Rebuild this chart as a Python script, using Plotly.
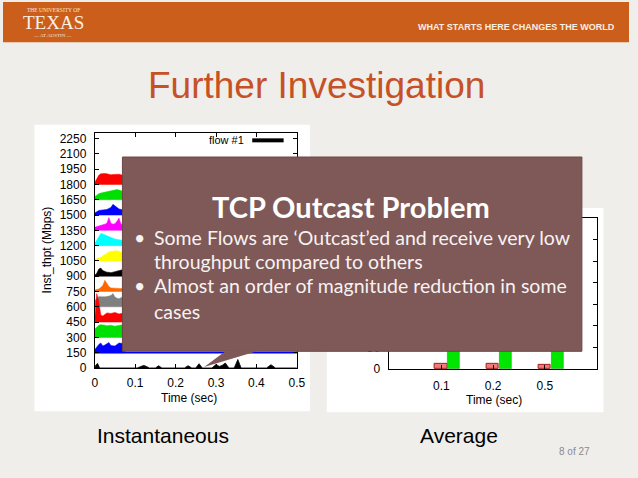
import plotly.graph_objects as go

W, H = 638, 478

# --- instantaneous throughput (left chart), stacked with 150 Mbps offsets ---
TIME = [0, 0.005, 0.01, 0.015, 0.02, 0.025, 0.03, 0.035, 0.04, 0.045,
        0.05, 0.055, 0.06, 0.065, 0.07, 0.075]

OFFSETS = [1800, 1650, 1500, 1350, 1200, 1050, 900, 750, 600, 450, 300, 150]
COLORS = ['#ff0000', '#00e000', '#0000ff', '#ff00ff', '#00ffff', '#ffff00',
          '#000000', '#ff6600', '#808080', '#ff0000', '#00e000', '#0000ff']

flow_1800 = [20, 60, 90, 105, 110, 108, 105, 98, 95, 98, 100, 102, 100, 95, 85, 80]
flow_1650 = [30, 45, 60, 65, 70, 72, 75, 82, 90, 95, 100, 100, 95, 88, 80, 75]
flow_1500 = [20, 35, 45, 48, 50, 52, 55, 65, 75, 105, 90, 70, 60, 55, 50, 50]
flow_1350 = [30, 38, 45, 50, 55, 60, 70, 125, 70, 60, 65, 90, 120, 60, 55, 55]
flow_1200 = [20, 50, 90, 120, 115, 105, 95, 88, 80, 72, 65, 60, 55, 52, 50, 50]
flow_1050 = [15, 20, 25, 35, 50, 65, 80, 88, 95, 98, 100, 100, 95, 85, 75, 70]
flow_900 = [10, 30, 70, 80, 55, 45, 40, 38, 35, 40, 45, 52, 60, 65, 70, 70]
flow_750 = [15, 20, 25, 40, 60, 110, 80, 50, 35, 32, 30, 30, 30, 30, 30, 30]
flow_600 = [60, 85, 100, 98, 95, 98, 100, 105, 110, 130, 95, 85, 80, 90, 100, 100]
flow_450 = [30, 280, 200, 70, 60, 75, 90, 88, 85, 90, 95, 88, 80, 85, 90, 90]
flow_300 = [80, 100, 120, 125, 125, 120, 115, 118, 120, 115, 110, 115, 120, 122, 125, 125]
flow_150 = [30, 60, 80, 95, 65, 75, 85, 100, 70, 68, 65, 80, 95, 92, 90, 90]

FLOWS = [flow_1800, flow_1650, flow_1500, flow_1350, flow_1200, flow_1050,
         flow_900, flow_750, flow_600, flow_450, flow_300, flow_150]

# flow #1 (the outcast one), full time range
flow1_t = [0, 0.003, 0.007, 0.012, 0.105, 0.115, 0.121, 0.128, 0.135, 0.15,
           0.158, 0.166, 0.222, 0.231, 0.24, 0.25, 0.258, 0.266, 0.29, 0.3,
           0.308, 0.315, 0.323, 0.332, 0.345, 0.354, 0.362, 0.425, 0.436,
           0.447, 0.5]
flow1_v = [0, 30, 45, 0, 0, 18, 25, 15, 0, 0,
           22, 0, 0, 22, 0, 0, 42, 0, 0, 35,
           15, 25, 48, 0, 0, 83, 0, 0, 32,
           0, 0]

T_RANGE = [0, 0.5]

# --- average throughput (right chart) ---
avg_cats = ['0.1', '0.2', '0.5']
avg_outcast = [11, 11, 10]
avg_others = [85, 82, 88]   # hidden behind the callout, estimated
avg_ticks = [0, 50, 100, 150, 200, 250, 300, 350]
avg_ticktext = ['0', '50', '', '', '', '', '', '']  # the rest sit under the callout


def px(x):
    return x / W


def py(y):
    return 1 - y / H


fig = go.Figure()

for off, color, vals in zip(OFFSETS, COLORS, FLOWS):
    xs = TIME + TIME[::-1]
    ys = [off + v for v in vals] + [off] * len(TIME)
    fig.add_trace(go.Scatter(x=xs, y=ys, fill='toself', fillcolor=color,
                             mode='lines', line=dict(color=color, width=0.5),
                             showlegend=False, hoverinfo='skip',
                             xaxis='x', yaxis='y'))

# baseline of the 150 offset flow runs across the plot
fig.add_trace(go.Scatter(x=T_RANGE, y=[OFFSETS[-1]] * 2, mode='lines',
                         line=dict(color='#0000ff', width=1.5),
                         showlegend=False, hoverinfo='skip',
                         xaxis='x', yaxis='y'))

fig.add_trace(go.Scatter(x=flow1_t, y=flow1_v, fill='tozeroy', fillcolor='black',
                         mode='lines', line=dict(color='black', width=0.8),
                         showlegend=False, hoverinfo='skip',
                         xaxis='x', yaxis='y'))

fig.add_trace(go.Bar(x=avg_cats, y=avg_outcast, width=0.24, offset=-0.125,
                     marker=dict(color='#f07a78', line=dict(color='#a02020', width=1)),
                     showlegend=False, xaxis='x2', yaxis='y2'))
fig.add_trace(go.Bar(x=avg_cats, y=avg_others, width=0.235, offset=0.125,
                     marker=dict(color='#00e600', line=dict(color='#00a000', width=0.5)),
                     showlegend=False, xaxis='x2', yaxis='y2'))

axis_font = dict(family='Liberation Sans, Arial', size=12, color='black')
axis_common = dict(showline=True, linecolor='black', linewidth=1, mirror='ticks',
                   ticks='inside', ticklen=4, tickcolor='black', showgrid=False,
                   zeroline=False, tickfont=axis_font)

fig.update_layout(
    width=W, height=H,
    margin=dict(l=0, r=0, t=0, b=0),
    paper_bgcolor='#f0eeeb',
    plot_bgcolor='rgba(0,0,0,0)',
    bargap=0,
    xaxis=dict(domain=[px(93.5), px(299.5)], range=T_RANGE, dtick=0.1,
               ticklabelstandoff=4, **axis_common),
    yaxis=dict(domain=[py(373), py(134)], range=[0, 2300], dtick=150,
               ticklabelstandoff=5, **axis_common),
    xaxis2=dict(domain=[px(393), px(605)], range=[-1.02, 3.0], type='category',
                anchor='y2', ticklabelstandoff=6, **axis_common),
    yaxis2=dict(domain=[py(374), py(220)], range=[0, 350], tickvals=avg_ticks,
                ticktext=avg_ticktext, anchor='x2', ticklabelstandoff=5,
                **axis_common),
)

shapes = [
    # banner
    dict(type='rect', xref='paper', yref='paper', x0=0, x1=1, y0=py(41), y1=1,
         fillcolor='#cb5e1b', line=dict(width=0), layer='below'),
    # white chart panels
    dict(type='rect', xref='paper', yref='paper', x0=px(32), x1=px(313),
         y0=py(417), y1=py(125), fillcolor='white', line=dict(width=0), layer='below'),
    dict(type='rect', xref='paper', yref='paper', x0=px(330), x1=px(612),
         y0=py(418), y1=py(210), fillcolor='white', line=dict(width=0), layer='below'),
    # legend sample for flow #1
    dict(type='line', xref='paper', yref='paper', x0=px(254), x1=px(286),
         y0=py(141), y1=py(141), line=dict(color='black', width=4)),
    # callout box and pointer
    dict(type='rect', xref='paper', yref='paper', x0=px(121.7), x1=px(590),
         y0=py(356), y1=py(158), fillcolor='#7e5958',
         line=dict(color='#6a4746', width=1), layer='above'),
    dict(type='path', xref='paper', yref='paper',
         path='M %f,%f L %f,%f L %f,%f Z' % (px(228), py(355), px(205), py(372),
                                             px(262), py(355)),
         fillcolor='#7e5958', line=dict(width=0), layer='above'),
]
fig.update_layout(shapes=shapes)

sans = 'Liberation Sans, Arial'
box_font = 'Lato, Open Sans'
ann = [
    dict(text='THE UNIVERSITY OF', x=px(51), y=py(8.5), font=dict(family='Liberation Serif', size=5.5, color='#f6e6d6')),
    dict(text='TEXAS', x=px(51), y=py(21), font=dict(family='Liberation Serif', size=19, color='#fbf1e6')),
    dict(text='— AT AUSTIN —', x=px(51), y=py(34), font=dict(family='Liberation Serif', size=5, color='#f6e6d6')),
    dict(text='<b>WHAT STARTS HERE CHANGES THE WORLD</b>', x=px(523), y=py(25),
         font=dict(family=sans, size=9, color='#fbefe4')),
    dict(text='Further Investigation', x=px(319), y=py(85),
         font=dict(family=sans, size=37, color='#c65127')),
    dict(text='flow #1', x=px(228), y=py(141), font=dict(family=sans, size=11, color='black')),
    dict(text='Time (sec)', x=px(190), y=py(404), font=axis_font),
    dict(text='Inst_thpt (Mbps)', x=px(45), y=py(253), textangle=-90, font=axis_font),
    dict(text='Time (sec)', x=px(500), y=py(406), font=axis_font),
    dict(text='Instantaneous', x=px(163), y=py(442), font=dict(family=sans, size=21, color='black')),
    dict(text='Average', x=px(465), y=py(442), font=dict(family=sans, size=21, color='black')),
    dict(text='8 of 27', x=px(582), y=py(458), font=dict(family=sans, size=10, color='#8a8a8a')),
    dict(text='<b>TCP Outcast Problem</b>', x=px(355), y=py(208),
         font=dict(family=box_font, size=29, color='white')),
]
for a in ann:
    a.update(xref='paper', yref='paper', showarrow=False,
             xanchor='center', yanchor='middle')

lines = [
    ('•', 131, 240), ('Some Flows are ‘Outcast’ed and receive very low', 152, 240),
    ('throughput compared to others', 152, 264),
    ('•', 131, 289), ('Almost an order of magnitude reduction in some', 152, 289),
    ('cases', 152, 315),
]
for text, x, y in lines:
    ann.append(dict(text=text, x=px(x), y=py(y), xref='paper', yref='paper',
                    xanchor='left', yanchor='middle', showarrow=False,
                    font=dict(family=box_font, size=19.5, color='#f8f2f2')))

fig.update_layout(annotations=ann)

page_fix = ("document.documentElement.style.overflow='hidden';"
            "var b=document.body;b.style.margin='0';b.style.overflow='hidden';"
            "b.style.width='638px';b.style.height='478px';b.style.lineHeight='0';")
fig.write_html('out.html', config={'displayModeBar': False}, post_script=page_fix)
